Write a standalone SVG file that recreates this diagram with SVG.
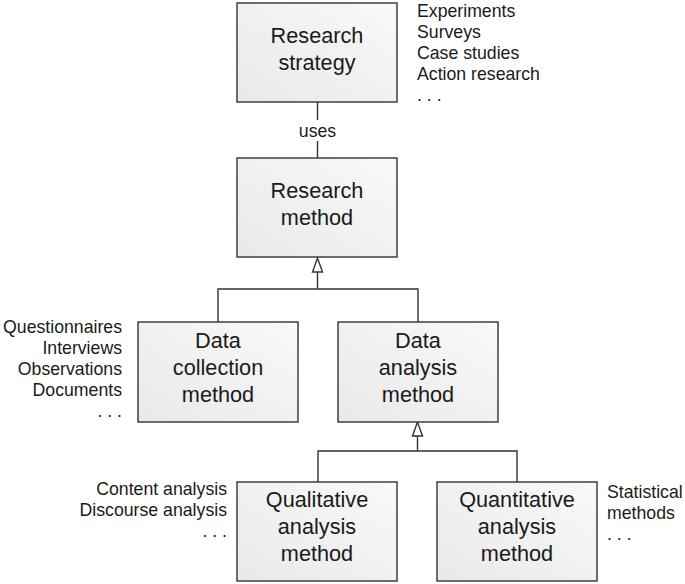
<svg xmlns="http://www.w3.org/2000/svg" width="685" height="584" viewBox="0 0 685 584">
<style>
.box{stroke:#333;stroke-width:1.4;fill:url(#g)}
.bt{font-family:"Liberation Sans",Arial,sans-serif;font-size:21.7px;fill:#1a1a1a;text-anchor:middle}
.lt{font-family:"Liberation Sans",Arial,sans-serif;font-size:17.7px;fill:#1a1a1a}
.ln{stroke:#333;stroke-width:1.4;fill:none}
.ah{stroke:#333;stroke-width:1.4;fill:#fff}
</style>
<defs>
<linearGradient id="g" x1="0" y1="1" x2="1" y2="0">
<stop offset="0" stop-color="#e9e9e9"/>
<stop offset="1" stop-color="#f9f9f9"/>
</linearGradient>
</defs>
<rect width="685" height="584" fill="#fff"/>
<g id="connectors">
<line class="ln" x1="317.5" y1="102" x2="317.5" y2="120"/>
<line class="ln" x1="317.5" y1="141" x2="317.5" y2="158"/>
<text class="lt" x="317.5" y="137" text-anchor="middle">uses</text>
<polyline class="ln" points="218,322 218,289 418,289 418,322"/>
<line class="ln" x1="317.5" y1="289" x2="317.5" y2="272"/>
<polygon class="ah" points="317.5,258 312.5,272 322.5,272"/>
<polyline class="ln" points="318,482 318,451 517,451 517,482"/>
<line class="ln" x1="417.5" y1="451" x2="417.5" y2="436"/>
<polygon class="ah" points="417.5,422 412.5,436 422.5,436"/>
</g>
<g id="research-strategy">
<rect class="box" x="237" y="3" width="160" height="99"/>
<text class="bt" x="317" y="43">Research</text>
<text class="bt" x="317" y="70">strategy</text>
</g>
<g id="strategy-list">
<text class="lt" x="417" y="17">Experiments</text>
<text class="lt" x="417" y="38">Surveys</text>
<text class="lt" x="417" y="59">Case studies</text>
<text class="lt" x="417" y="80">Action research</text>
<text class="lt" x="417" y="101">. . .</text>
</g>
<g id="research-method">
<rect class="box" x="237" y="158" width="160" height="99"/>
<text class="bt" x="317" y="198">Research</text>
<text class="bt" x="317" y="225">method</text>
</g>
<g id="data-collection">
<rect class="box" x="138" y="322" width="160" height="100"/>
<text class="bt" x="218" y="348">Data</text>
<text class="bt" x="218" y="375">collection</text>
<text class="bt" x="218" y="402">method</text>
</g>
<g id="collection-list" text-anchor="end">
<text class="lt" x="122" y="333">Questionnaires</text>
<text class="lt" x="122" y="354">Interviews</text>
<text class="lt" x="122" y="375">Observations</text>
<text class="lt" x="122" y="396">Documents</text>
<text class="lt" x="122" y="417">. . .</text>
</g>
<g id="data-analysis">
<rect class="box" x="338" y="322" width="160" height="100"/>
<text class="bt" x="418" y="348">Data</text>
<text class="bt" x="418" y="375">analysis</text>
<text class="bt" x="418" y="402">method</text>
</g>
<g id="qualitative">
<rect class="box" x="237" y="482" width="160" height="99"/>
<text class="bt" x="317" y="507">Qualitative</text>
<text class="bt" x="317" y="534">analysis</text>
<text class="bt" x="317" y="561">method</text>
</g>
<g id="qualitative-list" text-anchor="end">
<text class="lt" x="227" y="495">Content analysis</text>
<text class="lt" x="227" y="516">Discourse analysis</text>
<text class="lt" x="227" y="537">. . .</text>
</g>
<g id="quantitative">
<rect class="box" x="437" y="482" width="160" height="99"/>
<text class="bt" x="517" y="507">Quantitative</text>
<text class="bt" x="517" y="534">analysis</text>
<text class="bt" x="517" y="561">method</text>
</g>
<g id="quantitative-list">
<text class="lt" x="607" y="498">Statistical</text>
<text class="lt" x="607" y="519">methods</text>
<text class="lt" x="607" y="540">. . .</text>
</g>
</svg>
